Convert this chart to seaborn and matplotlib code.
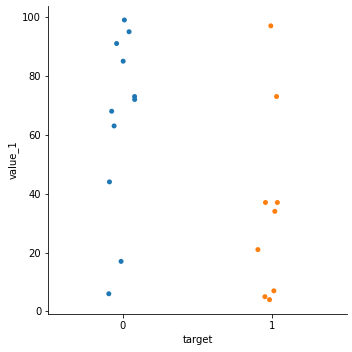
import numpy as np
import pandas as pd
import seaborn as sns
import matplotlib
matplotlib.use("Agg")
import matplotlib.pyplot as plt

target_0_values = [99, 95, 91, 85, 73, 72, 68, 63, 44, 17, 6]
target_1_values = [97, 73, 37, 37, 34, 21, 7, 5, 4]
categories = ["0", "1"]
colors = ["#1f77b4", "#ff7f0e"]

df = pd.DataFrame({
    "target": [categories[0]] * len(target_0_values) + [categories[1]] * len(target_1_values),
    "value_1": target_0_values + target_1_values,
})

np.random.seed(3)
g = sns.catplot(data=df, x="target", y="value_1", hue="target", kind="strip",
                palette=colors, order=categories, hue_order=categories,
                legend=False, height=352 / 72, aspect=1, jitter=0.1)
fig = g.figure
fig.set_dpi(72)
fig.set_size_inches(352 / 72, 352 / 72)
fig.subplots_adjust(left=0.137, right=0.985, bottom=0.109, top=0.983)
ax = g.ax
ax.set_xlabel("target")
ax.set_ylabel("value_1")
fig.savefig("out.png", dpi=72, facecolor="white")
